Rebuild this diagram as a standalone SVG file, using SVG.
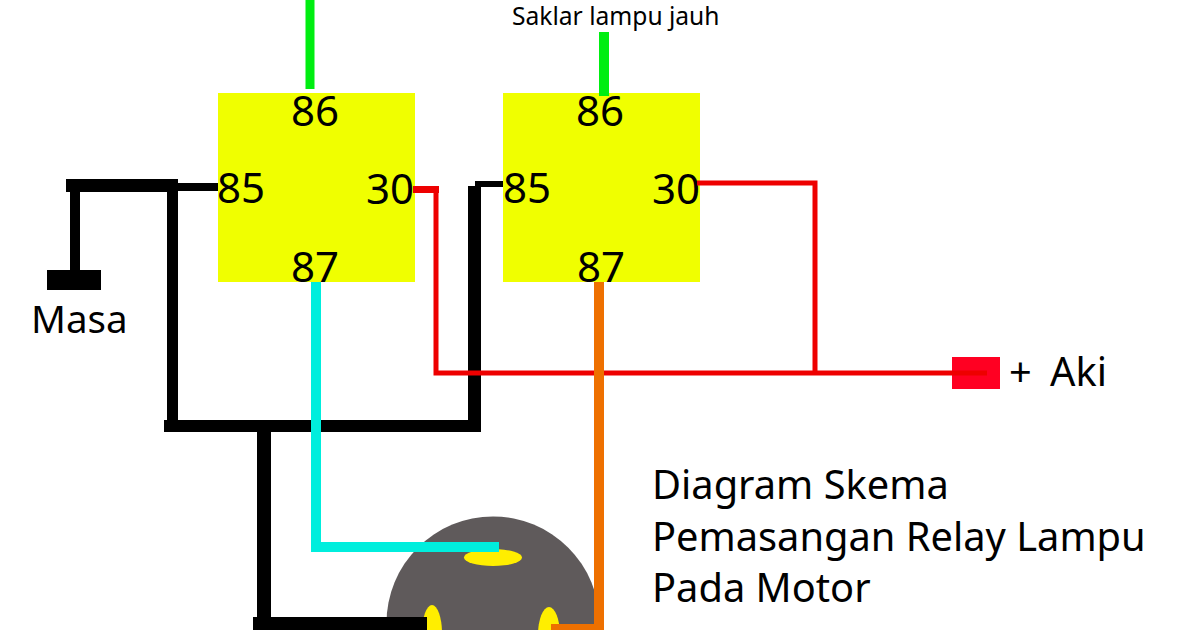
<svg xmlns="http://www.w3.org/2000/svg" width="1200" height="630" viewBox="0 0 1200 630">
<style>
.relay{fill:#f0ff00}
.n{font-family:"Noto Sans",Verdana,sans-serif;font-size:42px;fill:#000;text-anchor:middle}
.t{font-family:"Noto Sans",Verdana,sans-serif;font-size:39.800px;fill:#000}
.w{fill:none;stroke-linecap:butt;stroke-linejoin:miter}
.k{fill:#000}
</style>
<rect width="1200" height="630" fill="#fff"/>
<g id="lamp">
<circle cx="493" cy="623" r="106.500" fill="#5f5a5b"/>
<ellipse cx="493" cy="557.500" rx="29" ry="8.500" fill="#ffee00"/>
<ellipse cx="432" cy="633" rx="10" ry="28" fill="#ffee00"/>
<ellipse cx="549" cy="635" rx="11" ry="28" fill="#ffee00"/>
</g>
<g id="relay-1">
<rect class="relay" x="218" y="93" width="197" height="189"/>
<text class="n" x="315" y="126">86</text>
<text class="n" x="241" y="203">85</text>
<text class="n" x="390" y="204">30</text>
<text class="n" x="315" y="282">87</text>
</g>
<g id="relay-2">
<rect class="relay" x="503" y="93" width="197" height="189"/>
<text class="n" x="600" y="126">86</text>
<text class="n" x="527" y="203">85</text>
<text class="n" x="676" y="204">30</text>
<text class="n" x="601" y="282">87</text>
</g>
<g id="aki">
<rect x="952" y="357" width="48" height="32" fill="#ff0022"/>
<text class="t" x="1009" y="386" word-spacing="8">+ Aki</text>
</g>
<g id="connectors">
<path class="w" stroke="#00ee11" stroke-width="9" d="M310 0V89"/>
<path class="w" stroke="#00ee11" stroke-width="10" d="M604 32V96"/>
<path class="w" stroke="#000" stroke-width="8" d="M178 187H218"/>
<path class="w" stroke="#000" stroke-width="13" d="M66 185.500H178"/>
<path class="w" stroke="#000" stroke-width="10" d="M75 190V272"/>
<path class="w" stroke="#000" stroke-width="11" d="M172.500 190V426"/>
<path class="w" stroke="#000" stroke-width="12" d="M164 426H481"/>
<path class="w" stroke="#000" stroke-width="13" d="M474.500 426V186"/>
<path class="w" stroke="#000" stroke-width="6" d="M475 184H503"/>
<path class="w" stroke="#000" stroke-width="14" d="M264 430V625"/>
<path class="w" stroke="#000" stroke-width="13" d="M253 623.500H427"/>
<path class="w" stroke="#ee0000" stroke-width="5" d="M697 183H815V373"/>
<path class="w" stroke="#ee0000" stroke-width="7" d="M413 189.500H439"/>
<path class="w" stroke="#ee0000" stroke-width="5" d="M436 186V373H987"/>
<path class="w" stroke="#00eedd" stroke-width="10" d="M316 282V547H499"/>
<path class="w" stroke="#ee7000" stroke-width="10" d="M599 282V630"/>
<path class="w" stroke="#ee7000" stroke-width="6" d="M551 627H599"/>
</g>
<g id="masa">
<rect class="k" x="47" y="270" width="54" height="20"/>
<text x="31" y="333" font-family="'Noto Sans',Verdana,sans-serif" font-size="38.500" fill="#000">Masa</text>
</g>
<g id="labels">
<text x="512" y="25" font-family="'Noto Sans',Verdana,sans-serif" font-size="24.600" fill="#000">Saklar lampu jauh</text>
<text class="t" x="652" y="499">Diagram Skema</text>
<text class="t" x="652" y="551">Pemasangan Relay Lampu</text>
<text class="t" x="652" y="602">Pada Motor</text>
</g>
</svg>
